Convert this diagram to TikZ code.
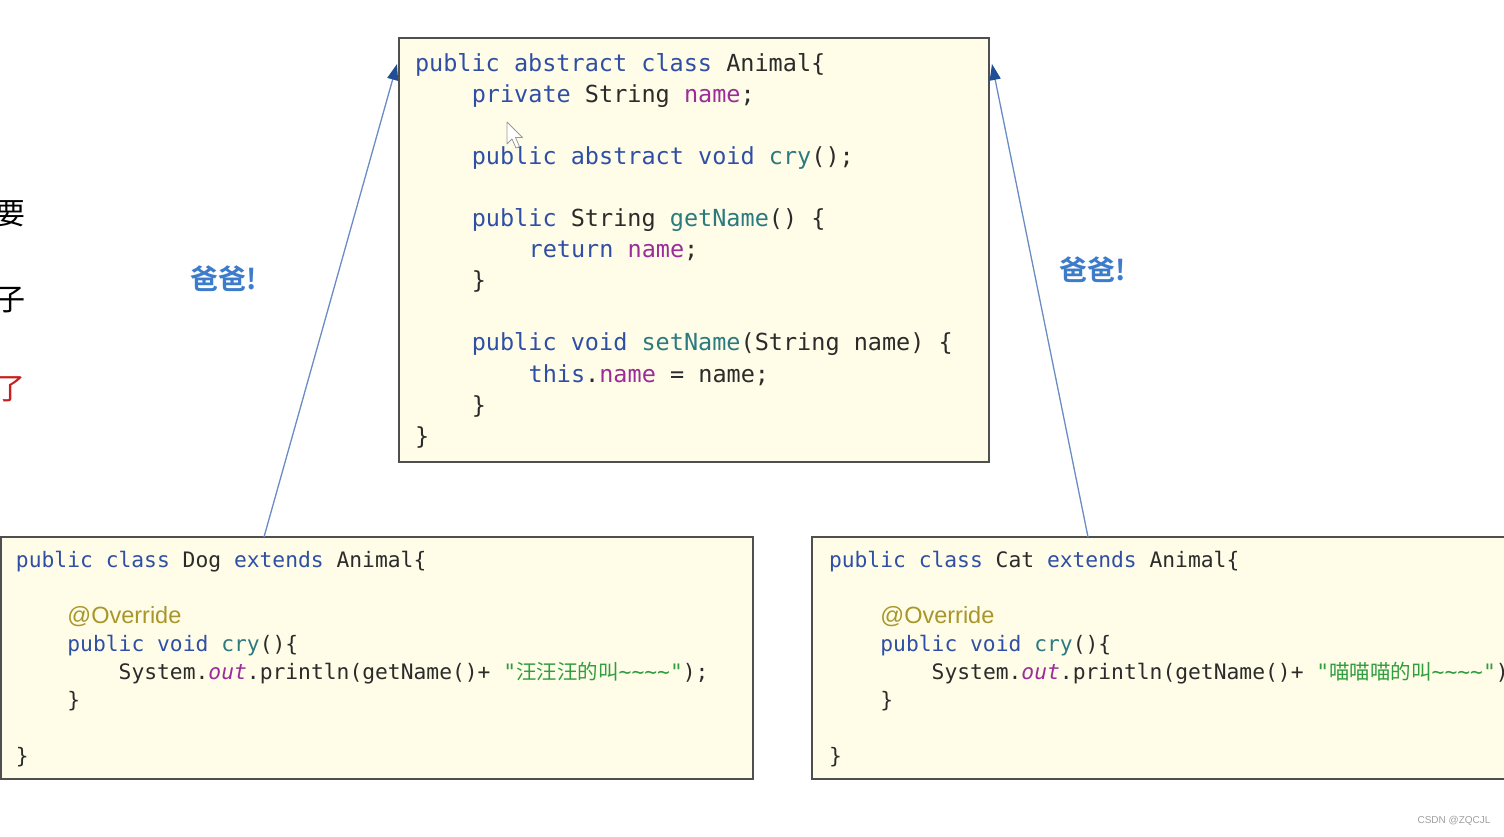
\documentclass[tikz,border=0pt]{standalone}
\usepackage{fontspec}
\usetikzlibrary{arrows.meta,calc}
\newfontfamily\codefont{DejaVu Sans Mono}[WordSpace={1,0,0}]
\newfontfamily\annofont{Liberation Sans}
\newfontfamily\cjk{Noto Sans CJK SC}[BoldFont={Noto Sans CJK SC Bold}]
\definecolor{kw}{HTML}{2F4FA6}
\definecolor{plain}{HTML}{2B2B2B}
\definecolor{fld}{HTML}{9B2C9A}
\definecolor{mth}{HTML}{2A7A80}
\definecolor{strc}{HTML}{2E9E3E}
\definecolor{annoc}{HTML}{A8962A}
\definecolor{dadc}{HTML}{3D7CCB}
\definecolor{redc}{HTML}{C81E1E}
\definecolor{boxfill}{HTML}{FFFDE7}
\definecolor{boxline}{HTML}{4F4F4F}
\definecolor{linkc}{HTML}{6A8CC4}
\definecolor{headc}{HTML}{1F4E96}
\newcommand\kwd[1]{\textcolor{kw}{#1}}
\newcommand\fldn[1]{\textcolor{fld}{#1}}
\newcommand\mthd[1]{\textcolor{mth}{#1}}
\newcommand\outf[1]{\textcolor{fld}{\itshape #1}}
\newcommand\tld{\textasciitilde}
\frenchspacing
\begin{document}
\begin{tikzpicture}[x=1pt,y=-1pt,
  codebox/.style={draw=boxline, line width=1.5pt, fill=boxfill, inner sep=0pt, outer sep=0pt},
  codeA/.style={anchor=base west, inner sep=0pt, outer sep=0pt, text=plain, font=\codefont\fontsize{23.5pt}{28pt}\selectfont},
  codeB/.style={anchor=base west, inner sep=0pt, outer sep=0pt, text=plain, font=\codefont\fontsize{21.3pt}{26pt}\selectfont},
  annot/.style={anchor=base west, inner sep=0pt, outer sep=0pt, text=annoc, font=\annofont\fontsize{23.5pt}{28pt}\selectfont},
  dad/.style={inner sep=0pt, text=dadc, font=\cjk\bfseries\fontsize{28pt}{32pt}\selectfont},
  side/.style={inner sep=0pt, font=\cjk\fontsize{30pt}{34pt}\selectfont},
  link/.style={draw=linkc, line width=1.3pt, -{Triangle[length=16pt,width=11pt,color=headc]}}
]
\useasboundingbox (0,0) rectangle (1504,836);
\clip (0,0) rectangle (1504,836);
\fill[white] (0,0) rectangle (1504,836);

% boxes
\node[codebox, minimum width=590pt, minimum height=424pt] (animal) at (694,250) {};
\node[codebox, minimum width=752pt, minimum height=242pt] (dog) at (377,658) {};
\node[codebox, minimum width=708pt, minimum height=242pt] (cat) at (1166,658) {};

% connectors
\coordinate (dogtop) at ($(dog.north west)+(263,0)$);
\coordinate (cattop) at ($(cat.north west)+(276,0)$);
\coordinate (ltip) at ($(animal.north west)+(-2,26)$);
\coordinate (rtip) at ($(animal.north east)+(3,26)$);
\draw[link] (dogtop) -- (ltip);
\draw[link] (cattop) -- (rtip);

% labels
\node[dad] (dadl) at (224,279) {爸爸!};
\node[dad] (dadr) at (1093,270) {爸爸!};
\node[side] (s1) at (10,214) {要};
\node[side] (s2) at (10,300) {子};
\node[side, text=redc] (s3) at (10,389) {了};

% Animal code
\node[codeA] (a0) at (415,71) {\kwd{public abstract class} Animal\{};
\node[codeA] (a1) at (471.8,102.1) {\kwd{private} String \fldn{name};};
\node[codeA] (a3) at (471.8,164.3) {\kwd{public abstract void} \mthd{cry}();};
\node[codeA] (a5) at (471.8,226.5) {\kwd{public} String \mthd{getName}() \{};
\node[codeA] (a6) at (528.6,257.6) {\kwd{return} \fldn{name};};
\node[codeA] (a7) at (471.8,288.7) {\}};
\node[codeA] (a9) at (471.8,350.9) {\kwd{public void} \mthd{setName}(String name) \{};
\node[codeA] (a10) at (528.6,382) {\kwd{this}.\fldn{name} = name;};
\node[codeA] (a11) at (471.8,413.1) {\}};
\node[codeA] (a12) at (415,444.2) {\}};

% Dog code
\node[codeB] (d0) at (16,567) {\kwd{public class} Dog \kwd{extends} Animal\{};
\node[annot] (d2) at (67.4,623) {@Override};
\node[codeB] (d3) at (67.4,651) {\kwd{public void} \mthd{cry}()\{};
\node[codeB] (d4) at (118.7,679) {System.\outf{out}.println(getName()+ \textcolor{strc}{"{\cjk\fontsize{20.5pt}{24pt}\selectfont 汪汪汪的叫}\tld\tld\tld\tld"});};
\node[codeB] (d5) at (67.4,707) {\}};
\node[codeB] (d7) at (16,763) {\}};

% Cat code
\node[codeB] (c0) at (829,567) {\kwd{public class} Cat \kwd{extends} Animal\{};
\node[annot] (c2) at (880.4,623) {@Override};
\node[codeB] (c3) at (880.4,651) {\kwd{public void} \mthd{cry}()\{};
\node[codeB] (c4) at (931.7,679) {System.\outf{out}.println(getName()+ \textcolor{strc}{"{\cjk\fontsize{20.5pt}{24pt}\selectfont 喵喵喵的叫}\tld\tld\tld\tld"});};
\node[codeB] (c5) at (880.4,707) {\}};
\node[codeB] (c7) at (829,763) {\}};

% mouse cursor
\draw[draw=gray!80, fill=white, line width=0.8pt, line join=round]
  (507,122) -- (507,144) -- (512,139) -- (516,148) -- (519.5,146.5) -- (515.5,137.5) -- (522.5,137.5) -- cycle;

% watermark
\node[inner sep=0pt, text=gray!75, font=\annofont\fontsize{10pt}{12pt}\selectfont] (wm) at (1454,821) {CSDN @ZQCJL};
\end{tikzpicture}
\end{document}
